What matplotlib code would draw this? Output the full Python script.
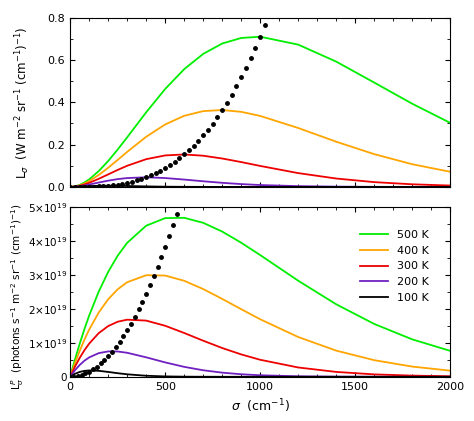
import numpy as np
import matplotlib.pyplot as plt
from matplotlib.ticker import AutoMinorLocator, FuncFormatter

# wavenumber grid (cm^-1)
sigma = [0, 25, 50, 75, 100, 150, 200, 250, 300, 400, 500, 600, 700, 800, 900,
         1000, 1200, 1400, 1600, 1800, 2000]

# spectral radiance, W m^-2 sr^-1 (cm^-1)^-1
L_500 = [0, 0.0025, 0.0096, 0.0209, 0.0357, 0.0745, 0.1224, 0.1767, 0.2346, 0.3527, 0.463,
         0.5567, 0.6289, 0.6779, 0.7041, 0.710, 0.6726, 0.5922, 0.4932, 0.3931, 0.3025]
L_400 = [0, 0.0020, 0.0076, 0.0162, 0.0275, 0.0562, 0.0905, 0.1276, 0.1656, 0.2371, 0.2954,
         0.3361, 0.3583, 0.3636, 0.3549, 0.3356, 0.2785, 0.2137, 0.1549, 0.1072, 0.0716]
L_300 = [0, 0.0015, 0.0055, 0.0116, 0.0194, 0.0382, 0.0592, 0.0803, 0.1000, 0.1312, 0.1489,
         0.1534, 0.1475, 0.1343, 0.1175, 0.0992, 0.0653, 0.0397, 0.0227, 0.0124, 0.0065]
L_200 = [0, 0.0009, 0.0034, 0.0070, 0.0113, 0.0207, 0.0296, 0.0369, 0.0420, 0.0455, 0.0420,
         0.0348, 0.0267, 0.0194, 0.0134, 0.0089, 0.0037, 0.0014, 0.0005, 0.0002, 0.0001]
L_100 = [0, 0.0004, 0.0014, 0.0026, 0.0037, 0.0053, 0.0057, 0.0052, 0.0044, 0.0024, 0.0011,
         0.0005, 0.0002, 0, 0, 0, 0, 0, 0, 0, 0]

# photon radiance, units of 1e19 photons s^-1 m^-2 sr^-1 (cm^-1)^-1
P_500 = [0, 0.503, 0.969, 1.401, 1.799, 2.501, 3.084, 3.56, 3.939, 4.442, 4.665,
         4.674, 4.526, 4.269, 3.941, 3.578, 2.824, 2.131, 1.553, 1.100, 0.762]
P_400 = [0, 0.399, 0.761, 1.09, 1.386, 1.887, 2.279, 2.572, 2.78, 2.986, 2.976,
         2.822, 2.579, 2.29, 1.987, 1.691, 1.169, 0.769, 0.488, 0.300, 0.180]
P_300 = [0, 0.294, 0.554, 0.780, 0.975, 1.282, 1.491, 1.619, 1.679, 1.652, 1.50,
         1.288, 1.061, 0.846, 0.658, 0.50, 0.274, 0.143, 0.071, 0.035, 0.016]
P_200 = [0, 0.190, 0.347, 0.472, 0.570, 0.695, 0.746, 0.744, 0.706, 0.572, 0.423,
         0.292, 0.192, 0.122, 0.075, 0.045, 0.015, 0.005, 0.0015, 0, 0]
P_100 = [0, 0.0866, 0.1424, 0.1738, 0.1866, 0.1764, 0.143, 0.1057, 0.0731, 0.0305, 0.0113,
         0.0038, 0.0012, 0, 0, 0, 0, 0, 0, 0, 0]

# locus of the maxima (dotted)
dot_sigma_top = list(range(0, 1075, 25))
dot_L = [0, 1.1e-5, 8.9e-5, 3.0e-4, 7.1e-4, 1.39e-3, 2.40e-3, 3.81e-3, 5.68e-3, 8.09e-3,
         0.0111, 0.01477, 0.01917, 0.02437, 0.03044, 0.03744, 0.04544, 0.0545, 0.0647,
         0.0761, 0.08875, 0.1027, 0.1181, 0.1350, 0.1534, 0.1733, 0.1950, 0.2184, 0.2435,
         0.2706, 0.2995, 0.3305, 0.3635, 0.3987, 0.4360, 0.4757, 0.5176, 0.5619, 0.6087,
         0.6581, 0.71, 0.7646, 0.8219]
dot_sigma_bot = list(range(0, 600, 20))
dot_P = [0, 0.0061, 0.0244, 0.055, 0.0978, 0.1528, 0.220, 0.2995, 0.391, 0.495, 0.611,
         0.740, 0.880, 1.033, 1.198, 1.375, 1.565, 1.766, 1.980, 2.206, 2.445, 2.695,
         2.958, 3.233, 3.521, 3.820, 4.132, 4.456, 4.792, 5.140]

labels = ['500 K', '400 K', '300 K', '200 K', '100 K']
colors = ['#00ee00', '#ffa500', '#ee0000', '#7020c0', 'black']

fig = plt.figure(figsize=(4.74, 4.21), dpi=100)
ax1 = fig.add_axes([0.148, 0.556, 0.802, 0.402])
ax2 = fig.add_axes([0.148, 0.105, 0.802, 0.404])

for ys, c in zip([L_500, L_400, L_300, L_200, L_100], colors):
    ax1.plot(sigma, ys, color=c, lw=1.3)
ax1.plot(dot_sigma_top, dot_L, 'o', color='black', ms=2.5)
for ys, c, lab in zip([P_500, P_400, P_300, P_200, P_100], colors, labels):
    ax2.plot(sigma, np.array(ys) * 1e19, color=c, lw=1.3, label=lab)
ax2.plot(dot_sigma_bot, np.array(dot_P) * 1e19, 'o', color='black', ms=2.5)

ax1.set_xlim(0, 2000)
ax1.set_ylim(0, 0.8)
ax1.set_yticks([0, 0.2, 0.4, 0.6, 0.8])
ax1.set_xticklabels([])
ax1.set_ylabel(r'L$_\sigma$  (W m$^{-2}$ sr$^{-1}$ (cm$^{-1}$)$^{-1}$)', fontsize=8.5)
ax1.yaxis.set_label_coords(-0.1, 0.5)

ax2.set_xlim(0, 2000)
ax2.set_ylim(0, 5e19)
ax2.set_yticks([0, 1e19, 2e19, 3e19, 4e19, 5e19])
ax2.yaxis.set_major_formatter(FuncFormatter(
    lambda v, p: '0' if v == 0 else r'%d$\times$10$^{19}$' % round(v / 1e19)))
ax2.set_xlabel(r'$\sigma$  (cm$^{-1}$)', fontsize=9)
ax2.set_ylabel(r'L$^P_\sigma$  (photons s$^{-1}$ m$^{-2}$ sr$^{-1}$ (cm$^{-1}$)$^{-1}$)', fontsize=7.5)
ax2.yaxis.set_label_coords(-0.115, 0.47)
ax2.legend(loc='upper right', frameon=False, fontsize=8, handlelength=2.5,
           bbox_to_anchor=(0.97, 0.92))

for ax in (ax1, ax2):
    ax.xaxis.set_minor_locator(AutoMinorLocator(5))
    ax.yaxis.set_minor_locator(AutoMinorLocator(2))
    ax.tick_params(direction='in', which='both', top=True, right=True, labelsize=8)
    ax.set_xticks([0, 500, 1000, 1500, 2000])
ax2.tick_params(axis='y', labelsize=7.5, pad=2)

fig.savefig('out.png', dpi=100)
